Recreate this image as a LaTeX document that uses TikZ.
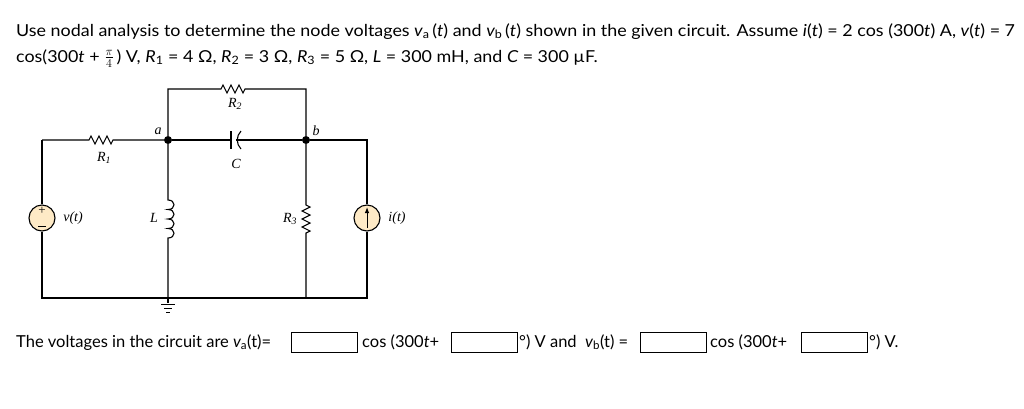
\documentclass[tikz,border=0pt]{standalone}
\usepackage{fontspec}
\setmainfont{Lato}
\newfontfamily\widefont{Lato}[FakeStretch=1.085]
\newfontfamily\cirfont{Liberation Serif}
\usetikzlibrary{arrows.meta}
\newcommand{\vi}[1]{{\itshape #1}}
\newcommand{\vs}[2]{{\itshape #1}\textsubscript{#2}}
\tikzset{wire/.style={line width=1.1pt},
 lbl/.style={font=\cirfont\itshape\fontsize{14}{14}\selectfont,inner sep=1pt},
 dot/.style={circle,fill=black,minimum size=8pt,inner sep=0pt},
 src/.style={circle,draw,line width=1.1pt,fill=yellow!25!orange!20,minimum size=26pt,inner sep=0pt},
 ans/.style={draw,line width=0.8pt,minimum width=66pt,minimum height=20pt,inner sep=0pt},
 txt/.style={font=\fontsize{16.5}{16.5}\selectfont,anchor=base west,inner sep=0pt},
 wtxt/.style={font=\widefont\fontsize{16.5}{16.5}\selectfont,anchor=base west,inner sep=0pt}}
\begin{document}
\begin{tikzpicture}[x=1pt,y=-1pt]
\useasboundingbox (0,0) rectangle (1024,408);
\node[wtxt] (t1) at (16,36) {Use nodal analysis to determine the node voltages \vs{v}{a}\,(\vi{t}) and \vs{v}{b}\,(\vi{t}) shown in the given circuit. Assume \vi{i}(\vi{t}) = 2 cos (300\vi{t}) A, \vi{v}(\vi{t}) = 7};
\node[wtxt] (t2) at (16,62) {cos(300\vi{t} + $\frac{\pi}{4}$\,) V, \vs{R}{1} = 4 Ω, \vs{R}{2} = 3 Ω, \vs{R}{3} = 5 Ω, \vi{L} = 300 mH, and \vi{C} = 300 µF.};
% nodes
\node[dot] (a) at (168,140) {};
\node[dot] (b) at (306,140) {};
\node[src] (vs) at (42,218) {};
\node[src] (is) at (367,218) {};
\coordinate (tl) at (42,140); \coordinate (bl) at (42,298);
\coordinate (ta) at (168,89); \coordinate (tb) at (306,89);
\coordinate (ga) at (168,298); \coordinate (gb) at (306,298);
\coordinate (tr) at (367,140); \coordinate (br) at (367,298);
% R1
\draw[wire] (tl) -- (89,140) -- ++(2,-4) -- ++(4,8) -- ++(4,-8) -- ++(4,8) -- ++(4,-8) -- ++(4,8) -- ++(2,-4) -- (a);
% R2
\draw[wire] (a) -- (ta) -- (221,89) -- ++(2,-4) -- ++(4,8) -- ++(4,-8) -- ++(4,8) -- ++(4,-8) -- ++(4,8) -- ++(2,-4) -- (tb) -- (b);
% C
\draw[wire] (a) -- (231,140) (231,131) -- (231,149);
\draw[wire] (241,131) .. controls (236,136) and (236,144) .. (241,149);
\draw[wire] (236,140) -- (b);
% L
\draw[wire] (a) -- (168,200)
  .. controls (176,200) and (176,209.5) .. (168,209.5)
  .. controls (176,209.5) and (176,219) .. (168,219)
  .. controls (176,219) and (176,228.5) .. (168,228.5)
  .. controls (176,228.5) and (176,238) .. (168,238) -- (ga);
% R3
\draw[wire] (b) -- (306,205) -- ++(4,2) -- ++(-8,4) -- ++(8,4) -- ++(-8,4) -- ++(8,4) -- ++(-8,4) -- ++(8,4) -- ++(-4,2) -- (306,240) -- (gb);
% outer wires
\draw[wire] (tl) -- (vs) (vs) -- (bl) -- (br) -- (is) (is) -- (tr) -- (b);
\node[font=\cirfont\fontsize{13}{13}\selectfont,inner sep=0pt] at (42,211) {+};
\draw[line width=1pt] (38,226) -- (46,226);
\draw[line width=1pt,-{Latex[length=6pt]}] (367,228) -- (367,207);
% ground
\draw[wire] (ga) -- (168,303);
\draw[line width=1pt] (161,304) -- (175,304) (164,308) -- (172,308) (166,312) -- (170,312);
% labels
\node[lbl] at (158,131) {a};
\node[lbl] at (316,131) {b};
\node[lbl] at (235,104) {R\textsubscript{2}};
\node[lbl] at (104,158) {R\textsubscript{1}};
\node[lbl] at (236,164) {C};
\node[lbl] at (73,218) {v(t)};
\node[lbl] at (154,218) {L};
\node[lbl] at (290,219) {R\textsubscript{3}};
\node[lbl] at (397,218) {i(t)};
% answer line
\node[txt] (q) at (16,347) {The voltages in the circuit are \vs{v}{a}(t)=};
\node[ans] (b1) at (324,342) {};
\node[txt] at (362,347) {cos (300\vi{t}+};
\node[ans] (b2) at (484,342) {};
\node[txt] at (519,347) {°) V and \ \vs{v}{b}(t) =};
\node[ans] (b3) at (673,342) {};
\node[txt] at (710,347) {cos (300\vi{t}+};
\node[ans] (b4) at (834,342) {};
\node[txt] at (869,347) {°) V.};
\end{tikzpicture}
\end{document}
